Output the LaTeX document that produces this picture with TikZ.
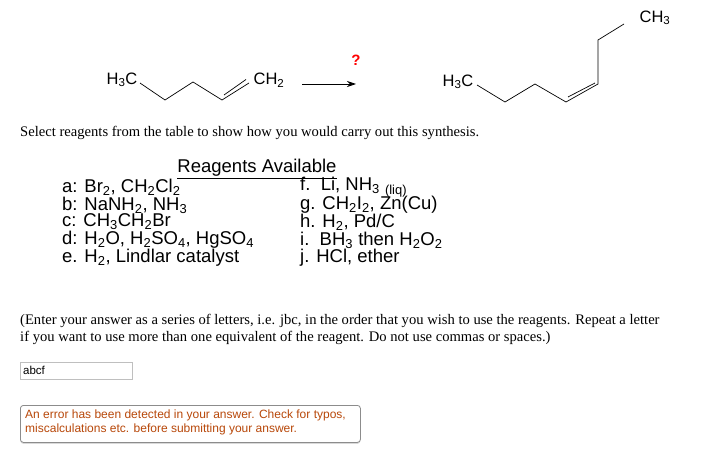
\documentclass[tikz,border=0pt]{standalone}
\usepackage{fontspec}
\setmainfont{Liberation Serif}
\newfontfamily\arial{Liberation Sans}
\usetikzlibrary{arrows.meta,shadows,calc}
\definecolor{errc}{HTML}{B8480A}
\begin{document}
\begin{tikzpicture}[x=1pt,y=-1pt,
  bond/.style={line width=0.7pt},
  atom/.style={font=\arial\fontsize{16.5}{16.5}\selectfont,inner sep=0pt},
  reag/.style={font=\arial\fontsize{18.5}{18.5}\selectfont,anchor=west,inner sep=0pt},
  body/.style={font=\fontsize{14.6}{17}\selectfont,anchor=west,inner sep=0pt}]
\useasboundingbox (0,0) rectangle (712,457);
% molecule 1
\node[atom] (a1) at (122,80) {H\textsubscript{3}C};
\coordinate (p1) at (140,83);
\coordinate (p2) at (165,100);
\coordinate (p3) at (193,82);
\coordinate (p4) at (222,100);
\coordinate (p5) at (249,83);
\node[atom] (a2) at (269,80) {CH\textsubscript{2}};
\draw[bond] (p1)--(p2)--(p3)--(p4)--(p5);
\draw[bond] ($(p4)+(2,-5)$)--($(p5)+(-3,-3.5)$);
% arrow
\coordinate (r1) at (302,84);
\coordinate (r2) at (356,84);
\draw[line width=0.8pt,-{Stealth[length=9pt,width=6pt]}] (r1)--(r2);
\node[font=\arial\bfseries\fontsize{15}{15}\selectfont,text=red] (q) at (356,60) {?};
% molecule 2
\node[atom] (b1) at (458,82) {H\textsubscript{3}C};
\coordinate (s1) at (477,85);
\coordinate (s2) at (505,102);
\coordinate (s3) at (535,84);
\coordinate (s4) at (566,102);
\coordinate (s5) at (598,84);
\coordinate (s6) at (598,40);
\coordinate (s7) at (624,24);
\node[atom] (b2) at (655,18) {CH\textsubscript{3}};
\draw[bond] (s1)--(s2)--(s3)--(s4)--(s5)--(s6)--(s7);
\draw[bond] ($(s4)+(2,-5)$)--($(s5)+(-3,-1)$);
% text
\node[body] (t1) at (20,133) {Select reagents from the table to show how you would carry out this synthesis.};
\node[font=\arial\fontsize{18.5}{18.5}\selectfont,inner sep=0pt] (ra) at (257,169) {\underline{Reagents Available}};
\node[reag] (ra1) at (62,187) {a: Br\textsubscript{2}, CH\textsubscript{2}Cl\textsubscript{2}};
\node[reag] (ra2) at (62,205) {b: NaNH\textsubscript{2}, NH\textsubscript{3}};
\node[reag] (ra3) at (62,222) {c: CH\textsubscript{3}CH\textsubscript{2}Br};
\node[reag] (ra4) at (62,240) {d: H\textsubscript{2}O, H\textsubscript{2}SO\textsubscript{4}, HgSO\textsubscript{4}};
\node[reag] (ra5) at (62,258) {e. H\textsubscript{2}, Lindlar catalyst};
\node[reag] (rb1) at (300,187) {f.\ \ Li, NH\textsubscript{3} \textsubscript{(liq)}};
\node[reag] (rb2) at (300,205) {g. CH\textsubscript{2}I\textsubscript{2}, Zn(Cu)};
\node[reag] (rb3) at (300,222) {h. H\textsubscript{2}, Pd/C};
\node[reag] (rb4) at (300,240) {i.\ \ BH\textsubscript{3} then H\textsubscript{2}O\textsubscript{2}};
\node[reag] (rb5) at (300,258) {j. HCl, ether};
\node[body] (t2) at (20,321) {(Enter your answer as a series of letters, i.e. jbc, in the order that you wish to use the reagents. Repeat a letter};
\node[body] (t3) at (20,338) {if you want to use more than one equivalent of the reagent. Do not use commas or spaces.)};
\node[draw=black!25,minimum width=112pt,minimum height=17pt,anchor=north west,inner sep=0pt] (inp) at (20,362) {};
\node[font=\arial\fontsize{11.5}{12}\selectfont,anchor=west,inner sep=0pt] (ans) at (23,370.5) {abcf};
\node[draw=black!45,line width=0.8pt,rounded corners=3pt,fill=white,drop shadow={shadow xshift=0pt,shadow yshift=-1.5pt,opacity=0.3},
  minimum width=340pt,minimum height=37pt,anchor=north west,inner sep=0pt] (err) at (20,405) {};
\node[font=\arial\fontsize{12}{14}\selectfont,text=errc,anchor=north west,align=left,inner sep=0pt] (errt) at (25,410)
 {An error has been detected in your answer. Check for typos,\\miscalculations etc. before submitting your answer.};
\end{tikzpicture}
\end{document}
